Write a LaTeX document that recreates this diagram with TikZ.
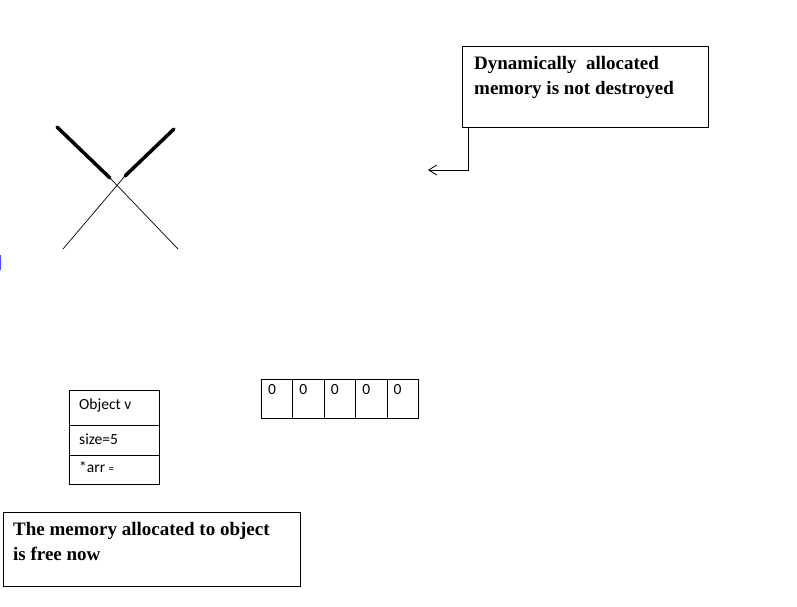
\documentclass[tikz,border=0pt]{standalone}
\usepackage{fontspec}
\setmainfont{Liberation Serif}
\newfontfamily\calfnt{Carlito}
\usetikzlibrary{arrows.meta}
\begin{document}
\begin{tikzpicture}[x=1pt,y=-1pt,
  box/.style={draw,line width=0.8pt},
  cell/.style={draw,line width=0.6pt,minimum width=31.4pt,minimum height=39pt,anchor=north west,inner sep=0pt},
  row/.style={draw,line width=0.6pt,minimum width=90pt,anchor=north west,inner sep=0pt},
  sf/.style={font=\calfnt\fontsize{15.5}{18}\selectfont},
  lbl/.style={font=\bfseries\fontsize{19}{25.5}\selectfont,align=left,anchor=north west,inner sep=0pt}]
\useasboundingbox (0,0) rectangle (797,606);
% X
\draw[line width=3.5pt,line cap=round] (57,127) -- (110,178);
\draw[line width=0.7pt] (110,178) -- (178,249);
\draw[line width=3.5pt,line cap=round] (174,129) -- (125,176);
\draw[line width=0.7pt] (125,176) -- (63,249);
\draw[blue!70,line width=1.2pt] (0,255) -- (0,270);
% callout
\node[box,minimum width=246pt,minimum height=81pt,anchor=north west,inner sep=0pt] (cb) at (462,46) {};
\node[lbl] (ct) at (474,56) {Dynamically\ \ allocated\\memory is not destroyed};
\coordinate (c0) at (468,127);
\coordinate (c1) at (468,170);
\coordinate (c2) at (428,170);
\draw[line width=0.8pt] (c0) -- (510,127);
\draw[line width=0.8pt,-{Straight Barb[length=8pt,width=10pt]}] (c0) -- (c1) -- (c2);
% array
\foreach \i in {0,...,4}{
  \node[cell] (a\i) at ({261+31.4*\i},379) {};
  \node[sf,anchor=north] (t\i) at ({261+31.4*\i+11},381) {0};
}
% object
\node[row,minimum height=35pt] (r1) at (69,390) {};
\node[row,minimum height=30pt] (r2) at (69,425) {};
\node[row,minimum height=29pt] (r3) at (69,455) {};
\node[sf,anchor=west,inner sep=0pt] (l1) at (79,405) {Object v};
\node[sf,anchor=west,inner sep=0pt] (l2) at (79,439) {size=5};
\node[sf,anchor=west,inner sep=0pt] (l3) at (79,467) {*arr {\fontsize{11}{12}\selectfont=}};
% bottom box
\node[box,minimum width=297pt,minimum height=74pt,anchor=north west,inner sep=0pt] (bb) at (3,512) {};
\node[lbl] (bt) at (13,522) {The memory allocated to object\\is free now};
\end{tikzpicture}
\end{document}
